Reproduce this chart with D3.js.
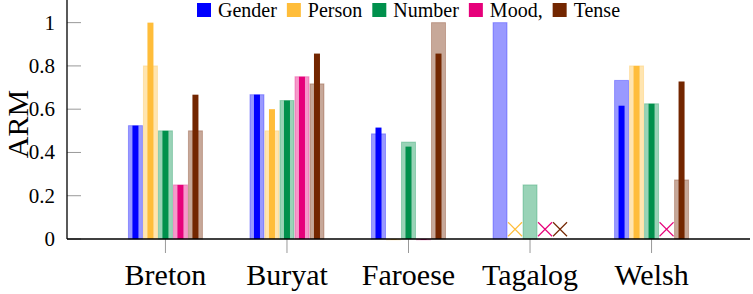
<!DOCTYPE html>
<html>
<head>
<meta charset="utf-8">
<script src="https://cdn.jsdelivr.net/npm/d3@7"></script>
<style>
    body { margin: 0; background: #fff; }
</style>
</head>
<body>
<div id="chart"></div>
<script>
// languages on the x axis
let languages = ["Breton", "Buryat", "Faroese", "Tagalog", "Welsh"];
let features = ["Gender", "Person", "Number", "Mood,", "Tense"];
let colors = ["#0000ff", "#ffbd3a", "#00904c", "#e6007a", "#732600"];

// wide (light) bars, one row per feature, one value per language
let wideGender = [0.524, 0.667, 0.486, 1.0, 0.733];
let widePerson = [0.8, 0.5, 0, null, 0.8];
let wideNumber = [0.5, 0.64, 0.448, 0.25, 0.625];
let wideMood = [0.25, 0.75, 0, null, null];
let wideTense = [0.5, 0.717, 1.0, null, 0.273];

// narrow (solid) bars
let narrowGender = [0.524, 0.667, 0.515, null, 0.616];
let narrowPerson = [1.0, 0.6, 0, null, 0.8];
let narrowNumber = [0.5, 0.64, 0.427, null, 0.625];
let narrowMood = [0.25, 0.75, 0, null, null];
let narrowTense = [0.667, 0.857, 0.857, null, 0.728];

// missing values drawn as crosses: [language, feature]
let missing = [["Tagalog", "Person"], ["Tagalog", "Mood,"], ["Tagalog", "Tense"], ["Welsh", "Mood,"]];
let missingLevel = 0.045;

let yTicks = [0, 0.2, 0.4, 0.6, 0.8, 1];

let wide = [wideGender, widePerson, wideNumber, wideMood, wideTense];
let narrow = [narrowGender, narrowPerson, narrowNumber, narrowMood, narrowTense];

let serif = "'Liberation Serif', 'Times New Roman', Times, 'DejaVu Serif', serif";

let width = 753, height = 294;
let margin = {left: 67, right: 3, top: 0, bottom: 55};

let svg = d3.select("#chart").append("svg")
    .attr("width", width)
    .attr("height", height)
    .attr("font-family", serif);

let x = d3.scalePoint()
    .domain(languages)
    .range([margin.left, width - margin.right])
    .padding(0.81);

let inner = d3.scaleBand()
    .domain(features)
    .range([-37.5, 37.5]);

let y = d3.scaleLinear()
    .domain([0, 1.1])
    .range([height - margin.bottom, 1]);

// flatten the rows into records
let bars = [];
features.forEach((f, fi) => {
    languages.forEach((l, li) => {
        bars.push({lang: l, feat: f, color: colors[fi], wide: wide[fi][li], narrow: narrow[fi][li]});
    });
});

let cx = d => x(d.lang) + inner(d.feat) + inner.bandwidth() / 2;

// wide light bars
svg.append("g").selectAll("rect")
    .data(bars.filter(d => d.wide !== null))
    .enter().append("rect")
    .attr("x", d => x(d.lang) + inner(d.feat) + 0.5)
    .attr("width", inner.bandwidth() - 1)
    .attr("y", d => y(d.wide))
    .attr("height", d => Math.max(0.8, y(0) - y(d.wide)))
    .attr("fill", d => d.color)
    .attr("fill-opacity", 0.4)
    .attr("stroke", d => d.color)
    .attr("stroke-opacity", 0.3);

// narrow solid bars
svg.append("g").selectAll("rect")
    .data(bars.filter(d => d.narrow !== null))
    .enter().append("rect")
    .attr("x", d => cx(d) - 3)
    .attr("width", 6)
    .attr("y", d => y(d.narrow))
    .attr("height", d => Math.max(0.8, y(0) - y(d.narrow)))
    .attr("fill", d => d.color);

// crosses for missing values
let crosses = svg.append("g").selectAll("g")
    .data(missing.map(m => ({lang: m[0], feat: m[1], color: colors[features.indexOf(m[1])]})))
    .enter().append("g")
    .attr("transform", d => `translate(${cx(d)}, ${y(missingLevel)})`)
    .attr("stroke", d => d.color)
    .attr("stroke-width", 1.1);
crosses.append("line").attr("x1", -7).attr("y1", -7).attr("x2", 7).attr("y2", 7);
crosses.append("line").attr("x1", -7).attr("y1", 7).attr("x2", 7).attr("y2", -7);

// y ticks (inside) and labels
svg.append("g").selectAll("line")
    .data(yTicks)
    .enter().append("line")
    .attr("x1", margin.left).attr("x2", margin.left + 14)
    .attr("y1", d => y(d)).attr("y2", d => y(d))
    .attr("stroke", "#999");

svg.append("g").selectAll("text")
    .data(yTicks)
    .enter().append("text")
    .attr("x", 55)
    .attr("y", d => y(d) + 7)
    .attr("text-anchor", "end")
    .style("font-family", serif)
    .style("font-size", "21px")
    .text(d => d);

// x ticks (below) and labels
svg.append("g").selectAll("line")
    .data(languages)
    .enter().append("line")
    .attr("x1", d => x(d)).attr("x2", d => x(d))
    .attr("y1", y(0)).attr("y2", y(0) + 14)
    .attr("stroke", "#999");

svg.append("g").selectAll("text")
    .data(languages)
    .enter().append("text")
    .attr("x", d => x(d))
    .attr("y", 285)
    .attr("text-anchor", "middle")
    .style("font-family", serif)
    .style("font-size", "30px")
    .text(d => d);

// axis lines
svg.append("line")
    .attr("x1", margin.left).attr("x2", margin.left)
    .attr("y1", 0).attr("y2", y(0))
    .attr("stroke", "#000").attr("stroke-width", 1.3);
svg.append("line")
    .attr("x1", margin.left).attr("x2", width - margin.right)
    .attr("y1", y(0)).attr("y2", y(0))
    .attr("stroke", "#000").attr("stroke-width", 1.3);

// y axis title
svg.append("text")
    .attr("transform", "translate(28, 124) rotate(-90)")
    .attr("text-anchor", "middle")
    .style("font-family", serif)
    .style("font-size", "30px")
    .text("ARM");

// legend
let legend = svg.append("g").attr("transform", "translate(197, 0)");
let lx = 0;
features.forEach((f, i) => {
    legend.append("rect")
        .attr("x", lx).attr("y", 3)
        .attr("width", 14).attr("height", 14)
        .attr("fill", colors[i]);
    let t = legend.append("text")
        .attr("x", lx + 21).attr("y", 17)
        .style("font-family", serif)
        .style("font-size", "20px")
        .text(f);
    lx += 21 + t.node().getComputedTextLength() + 10;
});
</script>
</body>
</html>
